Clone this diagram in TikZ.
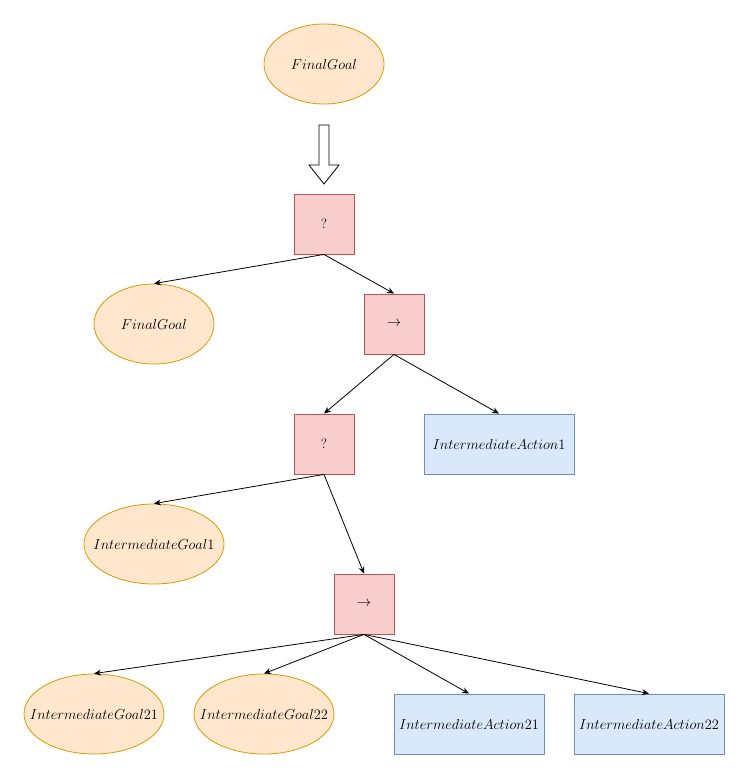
\documentclass[tikz,border=0pt]{standalone}
\usetikzlibrary{shapes.geometric,arrows.meta}
\definecolor{gfill}{HTML}{FFE6CC}\definecolor{gdraw}{HTML}{D79B00}
\definecolor{rfill}{HTML}{F8CECC}\definecolor{rdraw}{HTML}{B85450}
\definecolor{bfill}{HTML}{DAE8FC}\definecolor{bdraw}{HTML}{6C8EBF}
\newcommand\zwtext[1]{\makebox[0pt]{#1}}
\begin{document}
\begin{tikzpicture}[x=1pt,y=-1pt,
  txt/.style={font=\fontsize{13.5}{16}\selectfont},
  goal/.style={txt,ellipse,draw=gdraw,fill=gfill,line width=0.8pt,minimum height=80pt,inner sep=0pt},
  ctrl/.style={txt,rectangle,draw=rdraw,fill=rfill,line width=0.8pt,minimum width=60pt,minimum height=60pt,inner sep=0pt},
  act/.style={txt,rectangle,draw=bdraw,fill=bfill,line width=0.8pt,minimum width=150pt,minimum height=60pt,inner sep=0pt},
  edge/.style={-{Stealth[length=7pt,width=6pt]},line width=0.8pt}]
\useasboundingbox (0,0) rectangle (741,771);
\node[goal,minimum width=120pt] (fg) at (324,64) {\zwtext{$FinalGoal$}};
\draw[line width=0.8pt,fill=white] (319,125) -- (329,125) -- (329,165) -- (339,165) -- (324,184) -- (309,165) -- (319,165) -- cycle;
\node[ctrl] (s1) at (324,224) {?};
\node[goal,minimum width=120pt] (fg2) at (154,324) {\zwtext{$FinalGoal$}};
\node[ctrl] (q1) at (394,324) {$\rightarrow$};
\node[ctrl] (s2) at (324,444) {?};
\node[act] (ia1) at (499,444) {$IntermediateAction1$};
\node[goal,minimum width=140pt] (ig1) at (154,544) {\zwtext{$IntermediateGoal1$}};
\node[ctrl] (q2) at (364,604) {$\rightarrow$};
\node[goal,minimum width=140pt] (ig21) at (94,714) {\zwtext{$IntermediateGoal21$}};
\node[goal,minimum width=140pt] (ig22) at (264,714) {\zwtext{$IntermediateGoal22$}};
\node[act] (ia21) at (469,724) {$IntermediateAction21$};
\node[act] (ia22) at (649,724) {$IntermediateAction22$};
\draw[edge] (s1.south) -- (fg2.north);
\draw[edge] (s1.south) -- (q1.north);
\draw[edge] (q1.south) -- (s2.north);
\draw[edge] (q1.south) -- (ia1.north);
\draw[edge] (s2.south) -- (ig1.north);
\draw[edge] (s2.south) -- (q2.north);
\draw[edge] (q2.south) -- (ig21.north);
\draw[edge] (q2.south) -- (ig22.north);
\draw[edge] (q2.south) -- (ia21.north);
\draw[edge] (q2.south) -- (ia22.north);
\end{tikzpicture}
\end{document}
